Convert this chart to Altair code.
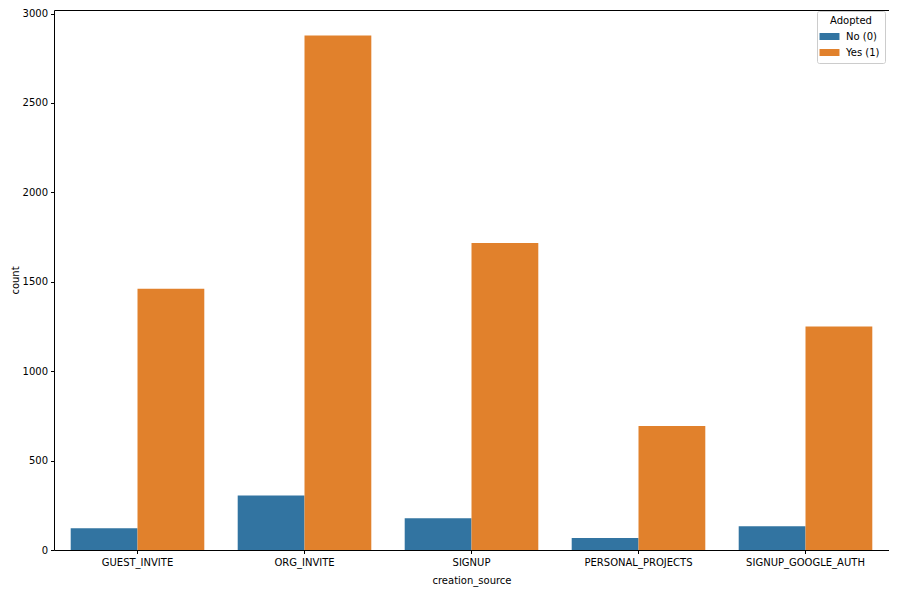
import altair as alt
import pandas as pd

categories = ["GUEST_INVITE", "ORG_INVITE", "SIGNUP", "PERSONAL_PROJECTS", "SIGNUP_GOOGLE_AUTH"]
no_counts = [122, 305, 178, 67, 133]
yes_counts = [1461, 2878, 1717, 694, 1250]
series = ["No (0)", "Yes (1)"]
colors = ["#3274a1", "#e1812c"]

rows = []
for c, n, y in zip(categories, no_counts, yes_counts):
    rows.append({"creation_source": c, "Adopted": series[0], "count": n})
    rows.append({"creation_source": c, "Adopted": series[1], "count": y})
df = pd.DataFrame(rows)

font = "DejaVu Sans"

chart = alt.Chart(df).mark_bar().encode(
    x=alt.X("creation_source:N", sort=categories,
            scale=alt.Scale(paddingInner=0.2, paddingOuter=0.1),
            axis=alt.Axis(labelAngle=0, title="creation_source", titlePadding=8)),
    xOffset=alt.XOffset("Adopted:N", sort=series,
                        scale=alt.Scale(paddingInner=0, paddingOuter=0)),
    y=alt.Y("count:Q", scale=alt.Scale(domain=[0, 3020], nice=False),
            axis=alt.Axis(values=[0, 500, 1000, 1500, 2000, 2500, 3000], format="d",
                          title="count", titlePadding=2, labelPadding=3)),
    color=alt.Color("Adopted:N", sort=series,
                    scale=alt.Scale(domain=series, range=colors),
                    legend=alt.Legend(orient="none", legendX=763, legendY=1,
                                      title="Adopted",
                                      titleAnchor="middle", titleAlign="center",
                                      titlePadding=3,
                                      symbolType="M-1.33,-0.47L1.33,-0.47L1.33,0.47L-1.33,0.47Z",
                                      symbolSize=225, symbolStrokeWidth=0,
                                      labelOffset=9,
                                      fillColor="white", strokeColor="#cccccc",
                                      padding=5, cornerRadius=2,
                                      labelFontSize=10, titleFontSize=10,
                                      titleFontWeight="normal", rowPadding=3)),
).properties(
    width=835, height=540,
    autosize=alt.AutoSizeParams(type="none"),
    padding={"left": 46, "top": 2, "right": 0, "bottom": 38},
).configure_view(
    stroke="#000000", strokeWidth=1
).configure_axis(
    grid=False, domain=False, tickColor="#000000", tickSize=3.5,
    labelColor="#000000", titleColor="#000000",
    labelFont=font, titleFont=font, labelFontSize=10, titleFontSize=10,
    titleFontWeight="normal", labelPadding=4
).configure_legend(
    labelFont=font, titleFont=font, labelColor="#000000", titleColor="#000000"
)

chart.save("out.html", embed_options={"renderer": "svg", "actions": False})
